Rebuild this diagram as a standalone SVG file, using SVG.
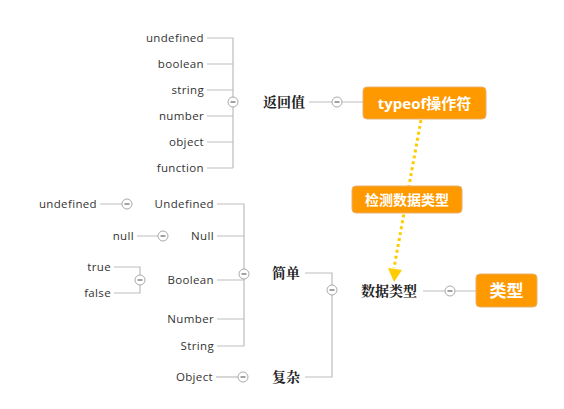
<svg xmlns="http://www.w3.org/2000/svg" width="564" height="409" viewBox="0 0 564 409">
<style>
.l{stroke:#BDBDBD;stroke-width:1.2;fill:none}
.c{fill:#fff;stroke:#AAAAAA;stroke-width:1}
.m{stroke:#666;stroke-width:1.2}
.t{font-family:"Open Sans","Noto Sans",sans-serif;font-size:11.5px;letter-spacing:0.35px;fill:#333;text-anchor:end}
.z{font-family:"Noto Serif CJK SC","Noto Sans CJK SC",serif;font-size:14px;font-weight:bold;fill:#222}
.b{fill:#FF9900;stroke:#E8B070;stroke-width:1}
.w{font-family:"Open Sans","Noto Sans CJK SC",sans-serif;font-weight:bold;fill:#fff;text-anchor:middle}
</style>
<defs>
<g id="col"><circle class="c" r="5"/><line class="m" x1="-2.5" y1="0" x2="2.5" y2="0"/></g>
</defs>
<rect width="564" height="409" fill="#fff"/>
<g id="connectors">
<path class="l" d="M207 38H233V168M207 64H233M207 90H233M207 116H233M207 142H233M207 168H233"/>
<path class="l" d="M309 102H363"/>
<path class="l" d="M217 204H244V346M217 236H244M217 280H244M217 319H244M217 346H244"/>
<path class="l" d="M305 273H332V377H305"/>
<path class="l" d="M100 204H122M137 236H158M114 267H140V293H114"/>
<path class="l" d="M216 377H238"/>
<path class="l" d="M423 291H476"/>
<line x1="421" y1="120" x2="394" y2="268" stroke="#FFCC00" stroke-width="3" stroke-dasharray="3 3"/>
<polygon points="388,268 402,270 394,282" fill="#FFCC00"/>
</g>
<g id="typeof"><rect class="b" x="363" y="87" width="123" height="32" rx="4"/><text class="w" x="424.5" y="109" font-size="15">typeof操作符</text></g>
<g id="jiance"><rect class="b" x="352" y="186" width="110" height="27" rx="4" fill="#FF8C00"/><text class="w" x="407" y="205" font-size="14">检测数据类型</text></g>
<g id="leixing"><rect class="b" x="476" y="274" width="61" height="33" rx="4"/><text class="w" x="506.5" y="297" font-size="17">类型</text></g>
<g id="shujuleixing"><text class="z" x="361" y="296">数据类型</text><use href="#col" x="450" y="291"/></g>
<g id="fanhuizhi"><text class="z" x="263" y="107">返回值</text><use href="#col" x="337" y="102"/><use href="#col" x="233" y="102"/></g>
<g id="ret-undefined"><text class="t" x="204" y="42">undefined</text></g>
<g id="ret-boolean"><text class="t" x="204" y="68">boolean</text></g>
<g id="ret-string"><text class="t" x="204" y="94">string</text></g>
<g id="ret-number"><text class="t" x="204" y="120">number</text></g>
<g id="ret-object"><text class="t" x="204" y="146">object</text></g>
<g id="ret-function"><text class="t" x="204" y="172">function</text></g>
<g id="jiandan"><text class="z" x="272" y="278">简单</text><use href="#col" x="332" y="290"/><use href="#col" x="244" y="274"/></g>
<g id="fuza"><text class="z" x="272" y="382">复杂</text><use href="#col" x="243" y="377"/></g>
<g id="Undefined"><text class="t" x="214" y="208">Undefined</text><use href="#col" x="127" y="204"/></g>
<g id="Null"><text class="t" x="214" y="240">Null</text><use href="#col" x="163" y="236"/></g>
<g id="Boolean"><text class="t" x="214" y="284">Boolean</text><use href="#col" x="140" y="280"/></g>
<g id="Number"><text class="t" x="214" y="323">Number</text></g>
<g id="String"><text class="t" x="214" y="350">String</text></g>
<g id="Object"><text class="t" x="213" y="381">Object</text></g>
<g id="v-undefined"><text class="t" x="97" y="208">undefined</text></g>
<g id="v-null"><text class="t" x="134" y="240">null</text></g>
<g id="v-true"><text class="t" x="111" y="271">true</text></g>
<g id="v-false"><text class="t" x="111" y="297">false</text></g>
</svg>
